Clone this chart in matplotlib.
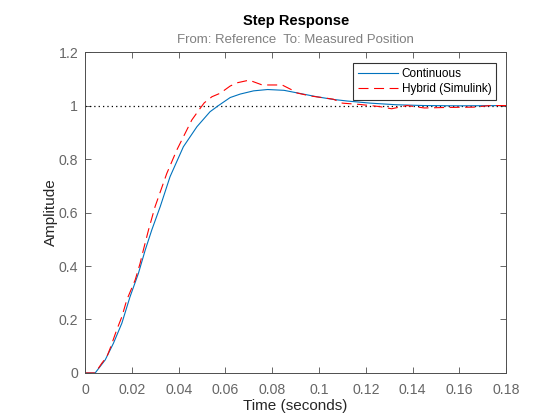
import numpy as np
import matplotlib
matplotlib.use("Agg")
import matplotlib.pyplot as plt

plt.rcParams["font.family"] = ["Liberation Sans", "DejaVu Sans"]

# continuous model step response
t_cont = [0, 0.0043, 0.0086, 0.0121, 0.0157, 0.0192, 0.0228, 0.0257, 0.0285,
          0.0321, 0.0363, 0.042, 0.0478, 0.0534, 0.057, 0.062, 0.0663, 0.072,
          0.078, 0.085, 0.092, 0.099, 0.106, 0.112, 0.122, 0.133, 0.145, 0.16, 0.18]
a_cont = [0, 0, 0.049, 0.111, 0.186, 0.285, 0.373, 0.46, 0.535,
          0.622, 0.734, 0.846, 0.921, 0.977, 1.0, 1.03, 1.043, 1.055,
          1.06, 1.057, 1.045, 1.033, 1.023, 1.017, 1.009, 1.003, 1.0, 0.999, 1.0]

# hybrid (simulink) response
t_hyb = [0, 0.0043, 0.0071, 0.0093, 0.0107, 0.0135, 0.0157, 0.0178, 0.0214,
         0.0235, 0.0249, 0.0271, 0.0299, 0.0349, 0.0392, 0.042, 0.0456, 0.0492,
         0.0509, 0.0542, 0.0577, 0.062, 0.0649, 0.0701, 0.0757, 0.0842, 0.0885,
         0.0906, 0.0962, 0.106, 0.110, 0.1176, 0.126, 0.131, 0.1376, 0.145,
         0.155, 0.166, 0.173, 0.18]
a_hyb = [0, 0, 0.036, 0.061, 0.092, 0.161, 0.21, 0.273, 0.348,
         0.41, 0.46, 0.535, 0.622, 0.746, 0.834, 0.883, 0.946, 0.99,
         1.01, 1.033, 1.046, 1.073, 1.085, 1.095, 1.077, 1.077, 1.058,
         1.047, 1.036, 1.024, 1.009, 1.004, 0.996, 0.988, 1.0, 0.991,
         0.993, 0.994, 1.0, 1.0]

xticks = np.arange(0, 0.181, 0.02)
xlabels = ["0", "0.02", "0.04", "0.06", "0.08", "0.1", "0.12", "0.14", "0.16", "0.18"]
yticks = np.arange(0, 1.21, 0.2)
ylabels = ["0", "0.2", "0.4", "0.6", "0.8", "1", "1.2"]

fig = plt.figure(figsize=(5.6, 4.2), dpi=100)
ax = fig.add_axes([0.152, 0.112, 0.752, 0.764])

grey = "#262626"
ax.axhline(1.0, color="black", linestyle=(0, (1, 2.5)), linewidth=0.9)
ax.plot(t_cont, a_cont, color="#0072BD", linewidth=0.8, label="Continuous")
ax.plot(t_hyb, a_hyb, color="red", linestyle=(0, (9, 5)), linewidth=0.8,
        label="Hybrid (Simulink)")

ax.set_xlim(0, 0.18)
ax.set_ylim(0, 1.2)
ax.set_xticks(xticks)
ax.set_xticklabels(xlabels)
ax.set_yticks(yticks)
ax.set_yticklabels(ylabels)
ax.tick_params(direction="in", top=True, right=True, length=4, width=0.6,
               colors="#4d4d4d", labelsize=10.2, labelcolor="#666666")
ax.tick_params(axis="x", pad=7)
ax.tick_params(axis="y", pad=5)
for sp in ax.spines.values():
    sp.set_color("#4d4d4d")
    sp.set_linewidth(0.7)

ax.set_xlabel("Time (seconds)", fontsize=11, color=grey, labelpad=2)
ax.set_ylabel("Amplitude", fontsize=11, color=grey, labelpad=0)

xc = 0.152 + 0.752 / 2
fig.text(xc, 0.95, "Step Response", ha="center", va="center",
         fontsize=10.5, fontweight="bold", color="black")
fig.text(xc, 0.905, "From: Reference  To: Measured Position", ha="center",
         va="center", fontsize=9.5, color="#808080")

leg = ax.legend(loc="upper right", fontsize=8.5, frameon=True, fancybox=False,
                borderpad=0.4, handlelength=3.4, handletextpad=0.3,
                labelspacing=0.3, borderaxespad=0,
                bbox_to_anchor=(0.976, 0.966))
leg.get_frame().set_edgecolor("black")
leg.get_frame().set_linewidth(0.8)

fig.savefig("out.png", dpi=100)
